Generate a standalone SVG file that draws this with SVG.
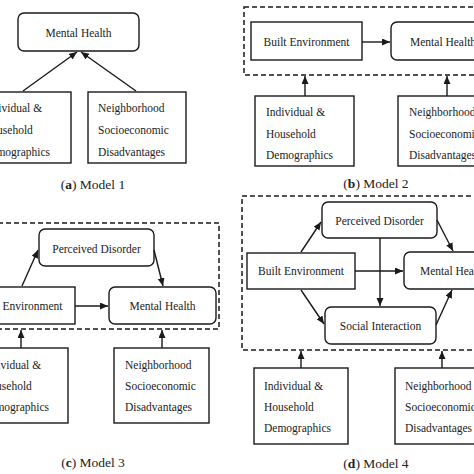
<svg xmlns="http://www.w3.org/2000/svg" width="474" height="474" viewBox="0 0 474 474">
<defs>
<marker id="ah" markerUnits="userSpaceOnUse" markerWidth="9" markerHeight="8" refX="8" refY="3.5" orient="auto">
<path d="M0,0 L8,3.5 L0,7 z" fill="#1a1a1a"/>
</marker>
<style>
.box{fill:#fff;stroke:#1a1a1a;stroke-width:1.4}
.dash{fill:none;stroke:#1a1a1a;stroke-width:1.5;stroke-dasharray:5 3}
.t{font-family:"Liberation Serif","Times New Roman",serif;font-size:11.5px;fill:#222}
.c{text-anchor:middle}
.cap{font-family:"Liberation Serif","Times New Roman",serif;font-size:13.5px;fill:#222;text-anchor:middle}
.ln{fill:none;stroke:#1a1a1a;stroke-width:1.4;marker-end:url(#ah)}
</style>
</defs>
<rect width="474" height="474" fill="#fff"/>

<!-- Model 1 -->
<g id="m1-mental"><rect class="box" x="18" y="13" width="121" height="38" rx="6"/><text class="t c" x="78.5" y="37">Mental Health</text></g>
<g id="m1-indiv"><rect class="box" x="-28" y="92" width="99" height="71"/><text class="t" x="-17" y="112">Individual &amp;</text><text class="t" x="-17" y="134">Household</text><text class="t" x="-17" y="156">Demographics</text></g>
<g id="m1-neigh"><rect class="box" x="88" y="92" width="98" height="71"/><text class="t" x="98" y="112">Neighborhood</text><text class="t" x="98" y="134">Socioeconomic</text><text class="t" x="98" y="156">Disadvantages</text></g>
<text class="cap" x="93" y="189">(<tspan font-weight="bold">a</tspan>) Model 1</text>

<!-- Model 2 -->
<rect class="dash" x="244" y="7" width="245" height="68"/>
<g id="m2-built"><rect class="box" x="251" y="22" width="111" height="38"/><text class="t c" x="306.5" y="46">Built Environment</text></g>
<g id="m2-mental"><rect class="box" x="391" y="22" width="106" height="38" rx="6"/><text class="t" x="410" y="46">Mental Health</text></g>
<g id="m2-indiv"><rect class="box" x="255" y="96" width="99" height="70"/><text class="t" x="266" y="116">Individual &amp;</text><text class="t" x="266" y="138">Household</text><text class="t" x="266" y="159">Demographics</text></g>
<g id="m2-neigh"><rect class="box" x="398" y="96" width="97" height="70"/><text class="t" x="409" y="116">Neighborhood</text><text class="t" x="409" y="138">Socioeconomic</text><text class="t" x="409" y="159">Disadvantages</text></g>
<text class="cap" x="376" y="188">(<tspan font-weight="bold">b</tspan>) Model 2</text>

<!-- Model 3 -->
<rect class="dash" x="-10" y="223" width="229" height="106"/>
<g id="m3-perc"><rect class="box" x="39" y="229" width="115" height="37" rx="6"/><text class="t c" x="96.5" y="253">Perceived Disorder</text></g>
<g id="m3-built"><rect class="box" x="-36" y="287" width="111" height="37"/><text class="t c" x="19.5" y="310">Built Environment</text></g>
<g id="m3-mental"><rect class="box" x="109" y="287" width="107" height="37" rx="6"/><text class="t c" x="162.5" y="310">Mental Health</text></g>
<g id="m3-indiv"><rect class="box" x="-30" y="348" width="98" height="75"/><text class="t" x="-18" y="369">Individual &amp;</text><text class="t" x="-18" y="390">Household</text><text class="t" x="-18" y="411">Demographics</text></g>
<g id="m3-neigh"><rect class="box" x="114" y="348" width="95" height="75"/><text class="t" x="125" y="369">Neighborhood</text><text class="t" x="125" y="390">Socioeconomic</text><text class="t" x="125" y="411">Disadvantages</text></g>
<text class="cap" x="93" y="467">(<tspan font-weight="bold">c</tspan>) Model 3</text>

<!-- Model 4 -->
<rect class="dash" x="242" y="196" width="250" height="154"/>
<g id="m4-perc"><rect class="box" x="322" y="202" width="115" height="36" rx="6"/><text class="t c" x="379.5" y="225">Perceived Disorder</text></g>
<g id="m4-built"><rect class="box" x="247" y="253" width="108" height="36"/><text class="t c" x="301" y="275">Built Environment</text></g>
<g id="m4-mental"><rect class="box" x="404" y="252" width="100" height="37" rx="6"/><text class="t" x="420" y="275">Mental Health</text></g>
<g id="m4-social"><rect class="box" x="325" y="307" width="111" height="37" rx="6"/><text class="t c" x="380.5" y="330">Social Interaction</text></g>
<g id="m4-indiv"><rect class="box" x="254" y="368" width="94" height="76"/><text class="t" x="264" y="390">Individual &amp;</text><text class="t" x="264" y="411">Household</text><text class="t" x="264" y="432">Demographics</text></g>
<g id="m4-neigh"><rect class="box" x="395" y="368" width="100" height="76"/><text class="t" x="405" y="390">Neighborhood</text><text class="t" x="405" y="411">Socioeconomic</text><text class="t" x="405" y="432">Disadvantages</text></g>
<text class="cap" x="376" y="468">(<tspan font-weight="bold">d</tspan>) Model 4</text>

<g id="connectors">
<line class="ln" x1="23" y1="91" x2="77" y2="52"/>
<line class="ln" x1="136" y1="91" x2="81" y2="52"/>

<line class="ln" x1="362" y1="42" x2="390" y2="42"/>
<line class="ln" x1="305" y1="96" x2="305" y2="76"/>
<line class="ln" x1="447" y1="96" x2="447" y2="76"/>

<line class="ln" x1="22" y1="286" x2="38" y2="250"/>
<line class="ln" x1="154" y1="250" x2="163" y2="286"/>
<line class="ln" x1="75" y1="306" x2="108" y2="306"/>
<line class="ln" x1="21" y1="348" x2="21" y2="330"/>
<line class="ln" x1="162" y1="348" x2="162" y2="330"/>

<line class="ln" x1="301" y1="252" x2="321" y2="222"/>
<line class="ln" x1="437" y1="220" x2="453" y2="251"/>
<line class="ln" x1="355" y1="271" x2="403" y2="271"/>
<line class="ln" x1="380" y1="238" x2="380" y2="306"/>
<line class="ln" x1="301" y1="290" x2="324" y2="324"/>
<line class="ln" x1="436" y1="325" x2="452" y2="290"/>
<line class="ln" x1="301" y1="368" x2="301" y2="351"/>
<line class="ln" x1="442" y1="368" x2="442" y2="351"/>
</g>
</svg>
